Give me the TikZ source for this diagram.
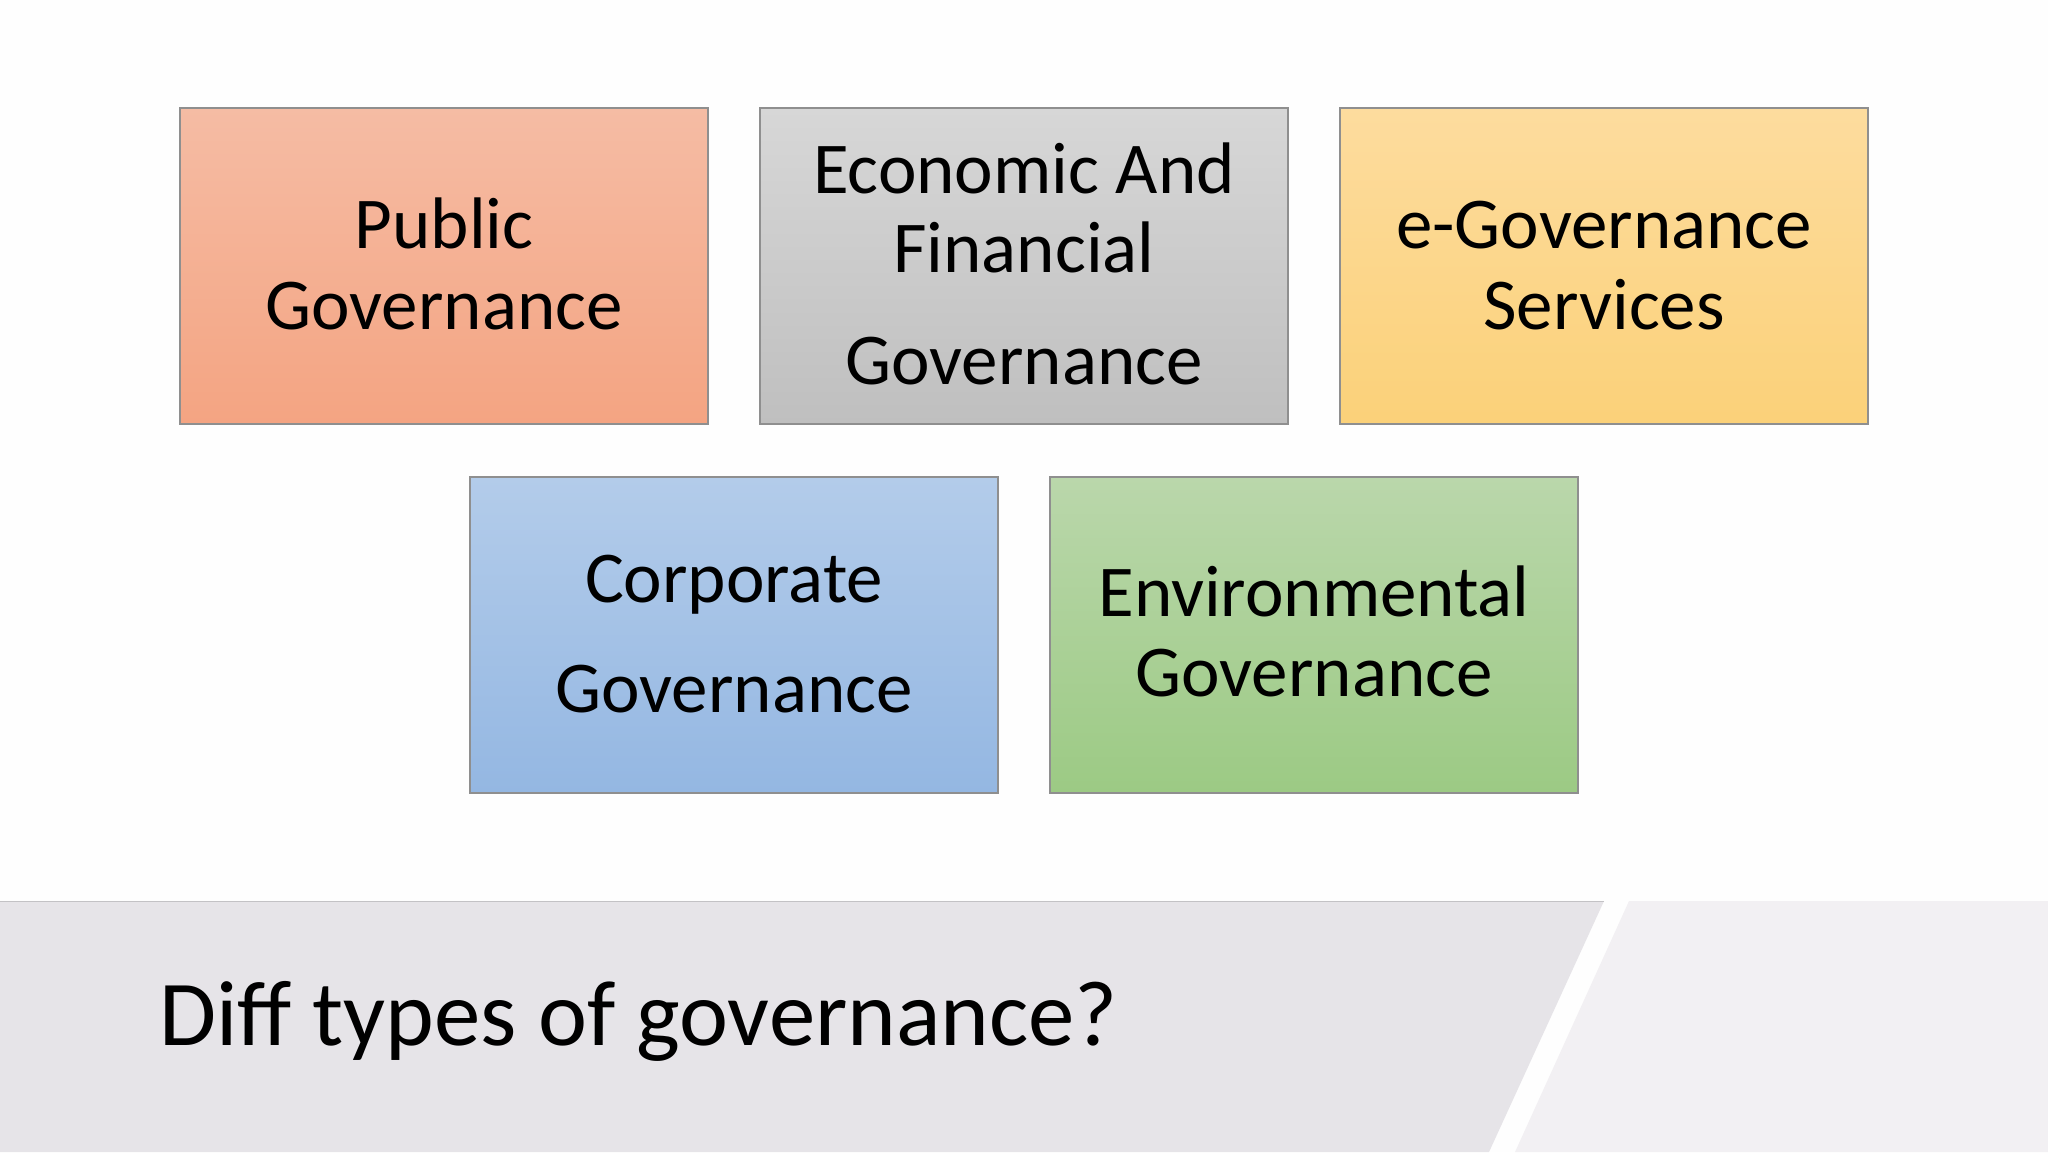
\documentclass[tikz,border=0pt]{standalone}
\usepackage{fontspec}
\setmainfont{Carlito}
\definecolor{bg}{HTML}{FEFEFE}
\definecolor{bandL}{HTML}{E6E4E8}
\definecolor{bandR}{HTML}{F2F0F3}
\definecolor{boxline}{HTML}{8F8F8F}
\definecolor{pubT}{HTML}{F5BCA4}
\definecolor{pubB}{HTML}{F4A482}
\definecolor{ecoT}{HTML}{D7D7D7}
\definecolor{ecoB}{HTML}{BFBFBF}
\definecolor{egoT}{HTML}{FDDC9E}
\definecolor{egoB}{HTML}{FBD179}
\definecolor{corT}{HTML}{B3CCEA}
\definecolor{corB}{HTML}{94B7E2}
\definecolor{envT}{HTML}{BAD7AB}
\definecolor{envB}{HTML}{9CCA84}
\tikzset{
  govbox/.style={draw=boxline, line width=0.6pt, rectangle, minimum width=264pt, minimum height=158pt, inner sep=0pt, shading=axis, shading angle=0},
  lbl/.style={anchor=base, inner sep=0pt, font=\fontsize{36.5}{40}\selectfont, text=black},
  ttl/.style={anchor=base west, inner sep=0pt, font=\fontsize{46.4}{52}\selectfont, text=black}
}
\begin{document}
\begin{tikzpicture}[x=0.5pt,y=-0.5pt]
\useasboundingbox (0,0) rectangle (2048,1152);
\fill[bg] (0,0) rectangle (2048,1152);
% bottom band
\fill[bandL] (0,901) -- (1604,901) -- (1489,1152) -- (0,1152) -- cycle;
\fill[bandR] (1629,901) -- (2048,901) -- (2048,1152) -- (1515,1152) -- cycle;
\draw[line width=0.5pt, draw=bandL!85!black] (0,901) -- (1604,901);
% boxes
\node[govbox, top color=pubT, bottom color=pubB] (pub) at (444,266) {};
\node[govbox, top color=ecoT, bottom color=ecoB] (eco) at (1024,266) {};
\node[govbox, top color=egoT, bottom color=egoB] (ego) at (1604,266) {};
\node[govbox, top color=corT, bottom color=corB] (cor) at (734,635) {};
\node[govbox, top color=envT, bottom color=envB] (env) at (1314,635) {};
% labels
\node[lbl] (pub1) at (444,248) {Public};
\node[lbl] (pub2) at (444,329) {Governance};
\node[lbl] (eco1) at (1024,193) {Economic And};
\node[lbl] (eco2) at (1024,272) {Financial};
\node[lbl] (eco3) at (1024,384) {Governance};
\node[lbl] (ego1) at (1604,248) {e-Governance};
\node[lbl] (ego2) at (1604,329) {Services};
\node[lbl] (cor1) at (734,602) {Corporate};
\node[lbl] (cor2) at (734,712) {Governance};
\node[lbl] (env1) at (1314,616) {Environmental};
\node[lbl] (env2) at (1314,696) {Governance};
% title
\node[ttl] (title) at (159,1045) {Diff types of governance?};
\end{tikzpicture}
\end{document}
